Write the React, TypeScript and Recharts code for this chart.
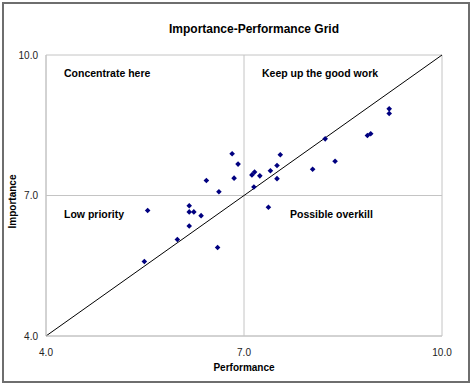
import {
  CartesianGrid,
  ReferenceArea,
  ReferenceLine,
  Scatter,
  ScatterChart,
  XAxis,
  YAxis,
} from "recharts";

// Survey items: performance score vs importance score
const performance = [
  6.82, 6.91, 6.85, 6.43, 6.62, 7.12, 7.16, 7.24, 7.15, 7.4,
  7.5, 7.55, 7.5, 7.37, 8.04, 8.23, 8.38, 8.87, 8.92, 9.2,
  9.2, 5.54, 6.17, 6.17, 6.24, 6.35, 6.17, 5.99, 6.6, 5.49,
];
const importance = [
  7.89, 7.67, 7.37, 7.32, 7.08, 7.44, 7.5, 7.42, 7.18, 7.53,
  7.64, 7.87, 7.36, 6.75, 7.56, 8.21, 7.73, 8.28, 8.32, 8.85,
  8.75, 6.68, 6.78, 6.65, 6.65, 6.57, 6.35, 6.06, 5.89, 5.59,
];
const axisTicks = [4, 7, 10];
const quadrants = [
  { label: "Concentrate here", x1: 4, x2: 7, y1: 7, y2: 10, dx: 18 },
  { label: "Keep up the good work", x1: 7, x2: 10, y1: 7, y2: 10, dx: 18 },
  { label: "Low priority", x1: 4, x2: 7, y1: 4, y2: 7, dx: 18 },
  { label: "Possible overkill", x1: 7, x2: 10, y1: 4, y2: 7, dx: 46 },
];

const points = performance.map((x, i) => ({ x, y: importance[i] }));

const FONT = "'Liberation Sans', Arial, sans-serif";

function Diamond(props: any) {
  const { cx, cy } = props;
  const r = 2.8;
  return (
    <polygon
      points={`${cx},${cy - r} ${cx + r},${cy} ${cx},${cy + r} ${cx - r},${cy}`}
      fill="#000080"
    />
  );
}

function QuadLabel(props: any) {
  const { viewBox, text, dx } = props;
  return (
    <text
      x={viewBox.x + dx}
      y={viewBox.y + 22}
      fontFamily={FONT}
      fontSize={10.5}
      fontWeight="bold"
      fill="#000"
    >
      {text}
    </text>
  );
}

export default function App() {
  return (
    <div style={{ position: "absolute", left: 0, top: 0, width: 474, height: 386, background: "#fff" }}>
      <div
        style={{
          position: "absolute",
          left: 2,
          top: 2,
          width: 468,
          height: 381,
          boxSizing: "border-box",
          border: "2px solid #6e6e6e",
        }}
      />
      <div style={{ position: "absolute", left: 0, top: 0 }}>
        <ScatterChart
          width={474}
          height={386}
          margin={{ top: 55, right: 32, bottom: 0, left: 0 }}
        >
          <text
            x={254}
            y={33}
            textAnchor="middle"
            fontFamily={FONT}
            fontSize={12}
            fontWeight="bold"
            fill="#000"
          >
            Importance-Performance Grid
          </text>
          <CartesianGrid stroke="#c4c4c4" />
          <XAxis
            type="number"
            dataKey="x"
            domain={[4, 10]}
            ticks={axisTicks}
            tickFormatter={(v) => Number(v).toFixed(1)}
            tickLine={false}
            tickMargin={7}
            axisLine={{ stroke: "#c4c4c4" }}
            tick={{ fill: "#222", fontSize: 10, fontFamily: FONT }}
            height={50}
            label={(p: any) => (
              <text
                x={p.viewBox.x + p.viewBox.width / 2}
                y={p.viewBox.y + 35}
                textAnchor="middle"
                fontFamily={FONT}
                fontSize={10}
                fontWeight="bold"
                fill="#000"
              >
                Performance
              </text>
            )}
          />
          <YAxis
            type="number"
            dataKey="y"
            domain={[4, 10]}
            ticks={axisTicks}
            tickFormatter={(v) => Number(v).toFixed(1)}
            tickLine={false}
            axisLine={{ stroke: "#c4c4c4" }}
            tick={{ fill: "#222", fontSize: 10, fontFamily: FONT }}
            width={46}
            label={(p: any) => {
              const cy = p.viewBox.y + p.viewBox.height / 2 + 6;
              return (
                <text
                  x={16}
                  y={cy}
                  transform={`rotate(-90, 16, ${cy})`}
                  textAnchor="middle"
                  fontFamily={FONT}
                  fontSize={10}
                  fontWeight="bold"
                  fill="#000"
                >
                  Importance
                </text>
              );
            }}
          />
          {quadrants.map((q) => (
            <ReferenceArea
              key={q.label}
              x1={q.x1}
              x2={q.x2}
              y1={q.y1}
              y2={q.y2}
              fill="none"
              stroke="none"
              label={<QuadLabel text={q.label} dx={q.dx} />}
            />
          ))}
          <ReferenceLine
            segment={[
              { x: 4, y: 4 },
              { x: 10, y: 10 },
            ]}
            stroke="#000"
            strokeWidth={1}
          />
          <Scatter data={points} shape={<Diamond />} isAnimationActive={false} />
        </ScatterChart>
      </div>
    </div>
  );
}
